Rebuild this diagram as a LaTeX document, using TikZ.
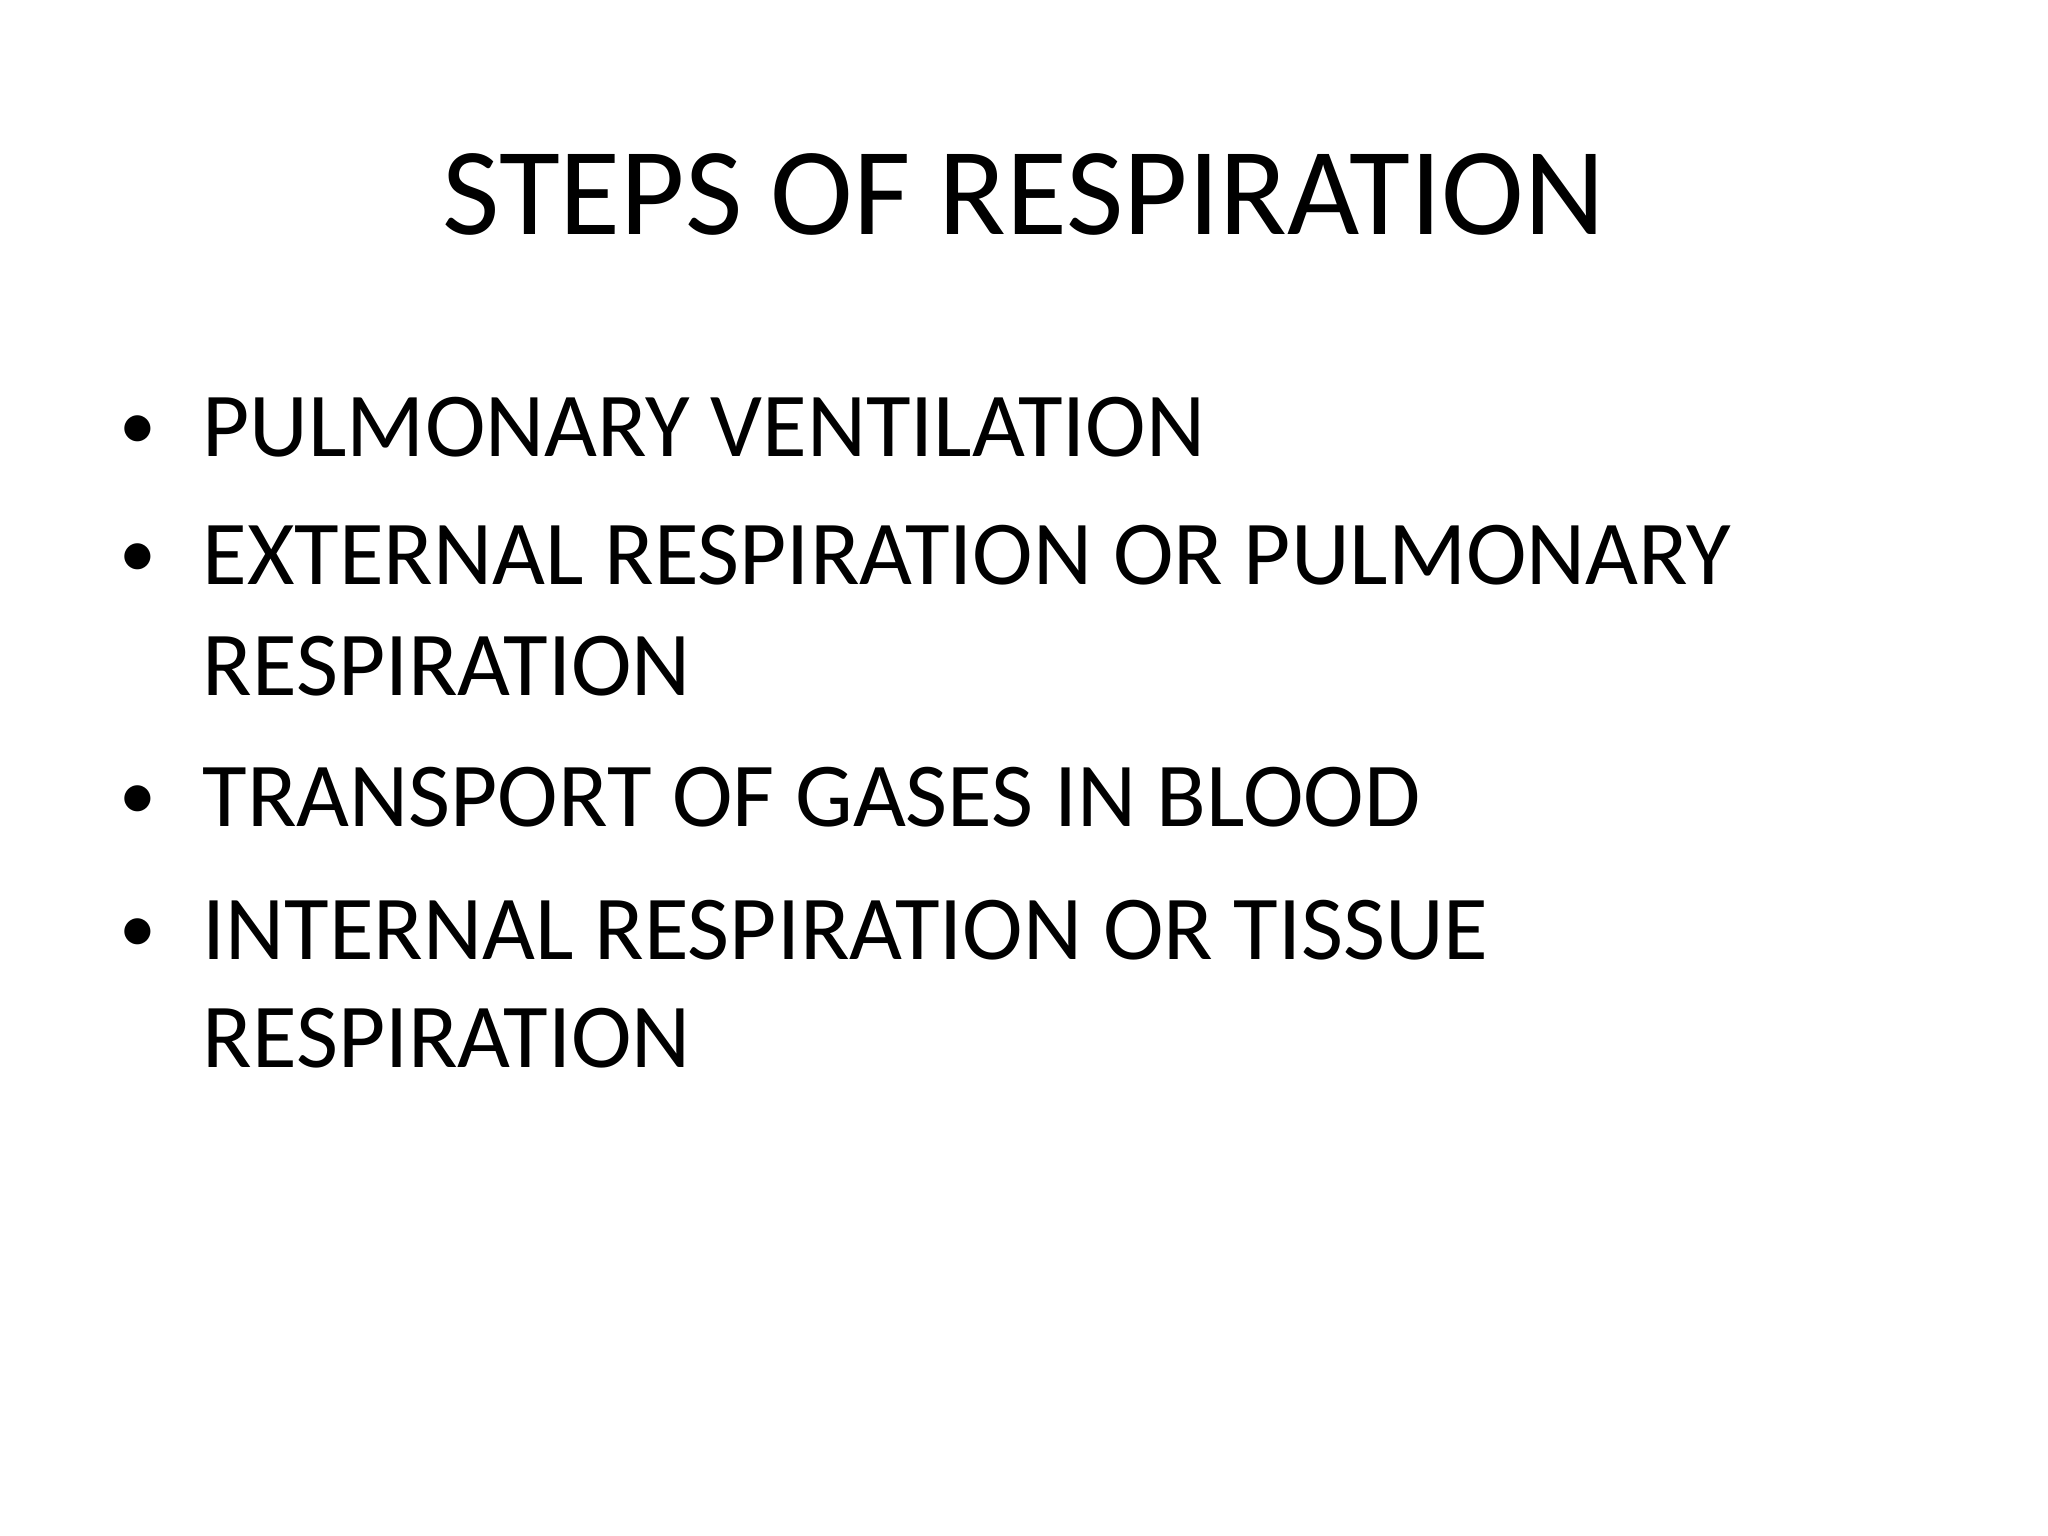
\documentclass[tikz,border=0pt]{standalone}
\usepackage{fontspec}
\setmainfont{Carlito}
\begin{document}
\begin{tikzpicture}[x=1cm,y=1cm,
  tl/.style={anchor=base, inner sep=0pt, font=\fontsize{35.5}{40}\selectfont},
  it/.style={anchor=base west, inner sep=0pt, font=\fontsize{26}{30}\selectfont},
  bl/.style={anchor=base, inner sep=0pt, font=\fontsize{21}{30}\selectfont}]
\fill[white] (0,0) rectangle (20.48,15.36);
\node[tl] (title) at (10.24,13.01) {STEPS OF RESPIRATION};
\node[bl] (b1) at (1.38,15.36-4.50) {•};
\node[it] (t1) at (2.02,15.36-4.57) {PULMONARY VENTILATION};
\node[bl] (b2) at (1.38,15.36-5.78) {•};
\node[it] (t2) at (2.02,15.36-5.85) {EXTERNAL RESPIRATION OR PULMONARY};
\node[it] (t2b) at (2.02,15.36-6.96) {RESPIRATION};
\node[bl] (b3) at (1.38,15.36-8.20) {•};
\node[it] (t3) at (2.02,15.36-8.27) {TRANSPORT OF GASES IN BLOOD};
\node[bl] (b4) at (1.38,15.36-9.53) {•};
\node[it] (t4) at (2.02,15.36-9.60) {INTERNAL RESPIRATION OR TISSUE};
\node[it] (t4b) at (2.02,15.36-10.68) {RESPIRATION};
\end{tikzpicture}
\end{document}
